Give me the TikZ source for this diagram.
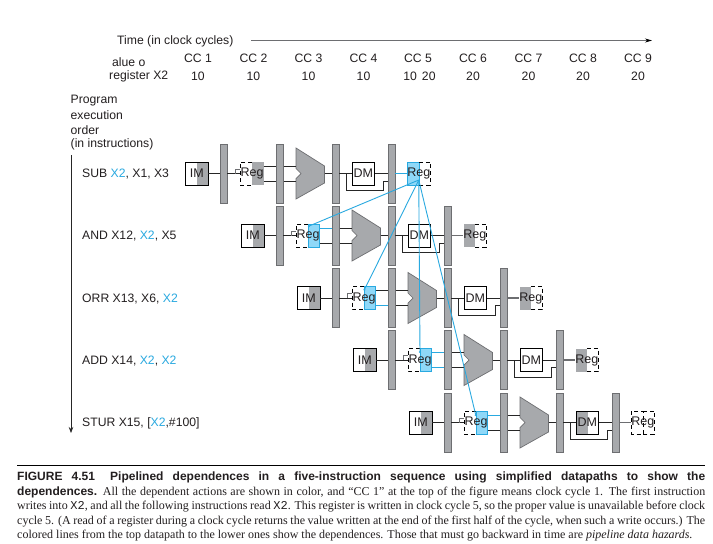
\documentclass[tikz,border=0pt]{standalone}
\usepackage{fontspec}
\setmainfont{Liberation Serif}
\setsansfont{Liberation Sans}
\setmonofont{Liberation Mono}
\usetikzlibrary{arrows.meta,calc}
\definecolor{unitgray}{HTML}{A7A9AC}
\definecolor{edgegray}{HTML}{6D6E71}
\definecolor{linkblue}{HTML}{29A9E0}
\definecolor{regblue}{HTML}{8FD8F8}
\definecolor{ink}{HTML}{231F20}
\tikzset{
  x=1pt,y=-1pt,
  lab/.style={font=\sffamily\fontsize{12.2}{14}\selectfont,text=ink,inner sep=0pt,yshift=-1pt},
  unit/.style={font=\sffamily\fontsize{12.5}{14}\selectfont,text=ink,minimum width=22.5pt,minimum height=23pt,inner sep=0pt},
  boxed/.style={unit,draw=black,line width=0.7pt},
  pipebar/.style={draw=edgegray,line width=0.5pt,fill=unitgray,minimum width=7pt,minimum height=59pt,inner sep=0pt},
  wire/.style={line width=0.7pt,draw=black!85},
  outgray/.style={line width=1.2pt,draw=edgegray},
  halfblue/.style={fill=regblue,draw=linkblue,line width=0.8pt},
  halfgray/.style={fill=unitgray},
  halfnone/.style={draw=black,line width=0.6pt,dash pattern=on 4pt off 3pt},
  dashside/.style={draw=black,line width=0.6pt,dash pattern=on 4pt off 3pt},
  dep/.style={draw=linkblue,line width=0.9pt,-{Circle[length=2pt,width=2pt]}},
  blueline/.style={wire,draw=linkblue},
  blackline/.style={wire},
}
\newcommand{\pipeRow}[9]{%
% 1 id, 2 x, 3 y, 4 read-half style, 5 upper wire, 6 lower wire, 7 DM half style, 8 write-half style, 9 write wire
\begin{scope}[shift={(#2,#3)}]
  \fill[unitgray] (11,-11.5) rectangle (22.5,11.5);
  \node[boxed] (im#1) at (11.25,0) {IM};
  \node[pipebar] (a#1) at (38,0) {};
  \node[pipebar] (b#1) at (94.5,0) {};
  \node[pipebar] (c#1) at (150,0) {};
  \node[pipebar] (d#1) at (206,0) {};
  % read register
  \path[#4] (66.5,-11.5) rectangle (78,11.5);
  \node[unit] (rr#1) at (66.5,0) {Reg};
  \draw[dashside] (rr#1.north) -| (rr#1.west) |- (rr#1.south);
  % ALU
  \coordinate (alu#1) at (123,0);
  \coordinate (aluu#1) at (110.5,-7.5);
  \coordinate (alul#1) at (110.5,7.5);
  \coordinate (aluo#1) at (139,0);
  \draw[draw=edgegray,line width=0.7pt,fill=unitgray] (110.5,-25.5) -- (139,-7.5) -- (139,9.5) -- (110.5,25.5) -- (110.5,5) -- (115.5,0) -- (110.5,-5) -- cycle;
  % DM
  \path[#7] (166.5,-11.5) rectangle (178,11.5);
  \node[unit,draw=black,line width=0.7pt] (dm#1) at (177.75,0) {DM};
  % write register
  \path[#8] (222,-11.5) rectangle (233.5,11.5);
  \node[unit] (wr#1) at (233.25,0) {Reg};
  \draw[dashside] (wr#1.north) -| (wr#1.east) |- (wr#1.south);
  % wires
  \draw[wire] (im#1.east) -- (a#1.west);
  \draw[wire] (a#1.east) -- (rr#1.west);
  \draw[line width=0.6pt,draw=edgegray] ($(rr#1.west)+(-5,0)$) |- ($(rr#1.west)+(0,-4.5)$);
  \draw[#5] ($(rr#1.east)+(0,-7.5)$) -- ($(b#1.west)+(0,-7.5)$);
  \draw[#6] ($(rr#1.east)+(0,7.5)$) -- ($(b#1.west)+(0,7.5)$);
  \draw[wire] ($(b#1.east)+(0,-7.5)$) -- (aluu#1);
  \draw[wire] ($(b#1.east)+(0,7.5)$) -- (alul#1);
  \draw[wire] (aluo#1) -- (c#1.west);
  \draw[wire] (c#1.east) -- (dm#1.west);
  \draw[wire] (dm#1.east) -- (d#1.west);
  \coordinate (fb#1) at (161,0);
  \draw[wire] (fb#1) -- (161,17) -- (198,17) -- (198,7.5) -- ($(d#1.west)+(0,7.5)$);
  \draw[#9] (d#1.east) -- (wr#1.west);
\end{scope}}
\begin{document}
\begin{tikzpicture}
\useasboundingbox (0,0) rectangle (713,544);
\fill[white] (0,0) rectangle (713,544);
% headers
\node[lab,anchor=west] (time) at (117,40) {Time (in clock cycles)};
\coordinate (timeend) at (652,40.5);
\draw[line width=0.8pt,draw=edgegray,-{Stealth[length=7pt,width=4pt,black]}] (251,40.5) -- (timeend);
\node[lab,anchor=west] (alue) at (112,61) {alue o};
\node[lab,anchor=west] (regx) at (109,75.5) {register X2};
\node[lab] (cc1) at (198,57) {CC 1};
\node[lab] (cc2) at (253.5,57) {CC 2};
\node[lab] (cc3) at (308.5,57) {CC 3};
\node[lab] (cc4) at (363.5,57) {CC 4};
\node[lab] (cc5) at (418,57) {CC 5};
\node[lab] (cc6) at (473,57) {CC 6};
\node[lab] (cc7) at (528.5,57) {CC 7};
\node[lab] (cc8) at (583,57) {CC 8};
\node[lab] (cc9) at (638,57) {CC 9};
\node[lab] (v1) at (198,75.5) {10};
\node[lab] (v2) at (253.5,75.5) {10};
\node[lab] (v3) at (308.5,75.5) {10};
\node[lab] (v4) at (363.5,75.5) {10};
\node[lab] (v5) at (419.5,75.5) {10\hspace{5pt}20};
\node[lab] (v6) at (473,75.5) {20};
\node[lab] (v7) at (528.5,75.5) {20};
\node[lab] (v8) at (583,75.5) {20};
\node[lab] (v9) at (638,75.5) {20};
\node[lab,anchor=west] (p1) at (70.5,99.5) {Program};
\node[lab,anchor=west] (p2) at (70.5,114.5) {execution};
\node[lab,anchor=west] (p3) at (70.5,129) {order};
\node[lab,anchor=west] (p4) at (70.5,143.5) {(in instructions)};
\coordinate (ordtop) at (71,155);
\coordinate (ordend) at (71,433);
\draw[line width=0.7pt,draw=black!85,-{Stealth[length=6pt,width=4.5pt]}] (ordtop) -- (ordend);
% instruction labels
\newcommand{\xb}{\textcolor{linkblue}{X2}}
\node[lab,anchor=west] (i1) at (82,173.5) {SUB \xb, X1, X3};
\node[lab,anchor=west] (i2) at (82,235.5) {AND X12, \xb, X5};
\node[lab,anchor=west] (i3) at (82,298) {ORR X13, X6, \xb};
\node[lab,anchor=west] (i4) at (82,360) {ADD X14, \xb, \xb};
\node[lab,anchor=west] (i5) at (82,422.5) {STUR X15, [\xb,\#100]};
% datapaths
\pipeRow{1}{185.5}{173.5}{halfgray}{blackline}{blackline}{draw=none}{halfblue}{blueline}
\pipeRow{2}{241.5}{235.5}{halfblue}{blueline}{blackline}{draw=none}{halfgray}{outgray}
\pipeRow{3}{297.5}{298}{halfblue}{blackline}{blueline}{draw=none}{halfgray}{outgray}
\pipeRow{4}{353.5}{360}{halfblue}{blueline}{blueline}{draw=none}{halfgray}{outgray}
\pipeRow{5}{409.5}{422.5}{halfblue}{blueline}{blackline}{halfgray}{halfnone}{outgray}
% dependences
\coordinate (src) at ($(wr1)+(0,6.5)$);
\draw[dep] (src) -- ($(rr2)+(0,-9)$);
\draw[dep] (src) -- ($(rr3)+(0,-7.5)$);
\draw[dep] (src) -- ($(rr4)+(0,-7)$);
\draw[dep] (src) -- ($(rr5)+(0,-6.5)$);
% caption
\draw[line width=1.2pt,draw=black] (17,465.5) -- (705,465.5);
\node[anchor=north west,inner sep=0pt,text width=688pt,align=justify,font=\rmfamily\fontsize{12}{14.4}\selectfont,text=ink] (cap) at (17,472) {%
{\sffamily\bfseries FIGURE 4.51\hspace{0.5em} Pipelined dependences in a five-instruction sequence using simplified datapaths to show the}\linebreak
{\sffamily\bfseries dependences.} All the dependent actions are shown in color, and “CC 1” at the top of the figure means clock cycle 1. The first instruction\linebreak
writes into {\ttfamily X2}, and all the following instructions read {\ttfamily X2}. This register is written in clock cycle 5, so the proper value is unavailable before clock\linebreak
cycle 5. (A read of a register during a clock cycle returns the value written at the end of the first half of the cycle, when such a write occurs.) The\linebreak
colored lines from the top datapath to the lower ones show the dependences. Those that must go backward in time are \textit{pipeline data hazards.}\par};
\end{tikzpicture}
\end{document}
